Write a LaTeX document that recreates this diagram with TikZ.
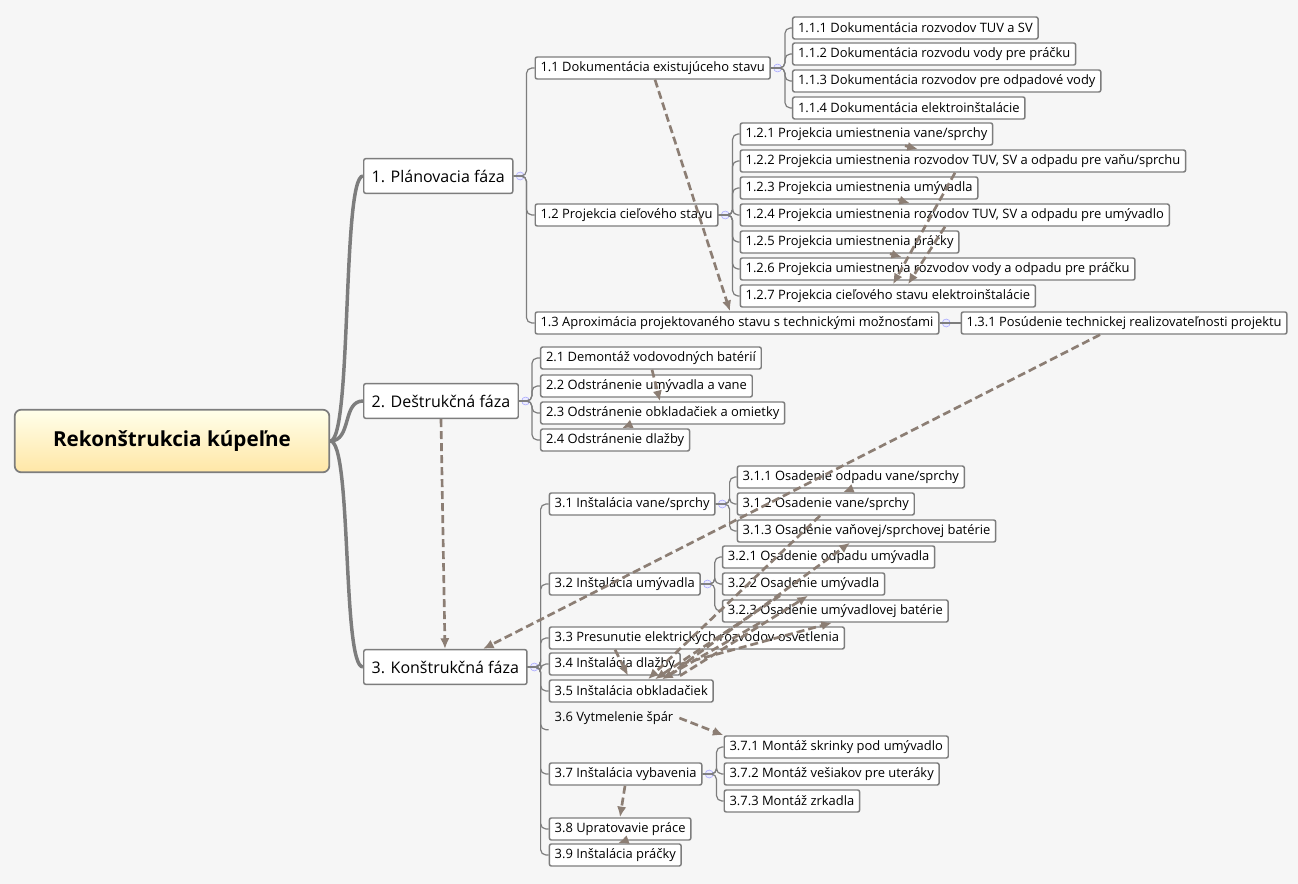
\documentclass[tikz,border=0pt]{standalone}
\usepackage{fontspec}
\setmainfont{Open Sans}
\usetikzlibrary{arrows.meta}
\definecolor{linegray}{RGB}{125,125,125}
\definecolor{depcol}{RGB}{140,126,116}
\begin{document}
\begin{tikzpicture}[x=0.75pt,y=-0.75pt,
    leaf/.style={draw=linegray,line width=1.1pt,rounded corners=1.5pt,fill=white,anchor=west,
        minimum height=16.5pt,inner ysep=3pt,inner xsep=4pt,font=\fontsize{9.7}{10}\selectfont},
    phase/.style={leaf,minimum height=26pt,inner xsep=6pt,font=\fontsize{12}{13}\selectfont},
    branch/.style={draw=linegray,line width=0.9pt,rounded corners=4pt},
    trunk/.style={draw=linegray,line width=2.6pt},
    dep/.style={draw=depcol,line width=2pt,dash pattern=on 6pt off 3pt,-{Latex[length=8pt,width=7pt]}},
    knob/.style={circle,draw=blue!35,fill=blue!8,inner sep=0pt,minimum size=6pt}]

    % background and frame of the picture
    \fill[gray!7] (0,0) rectangle (1298,884);
    \useasboundingbox (0,0) rectangle (1298,884);

    % root and the three phases
    \node[draw=linegray,line width=1.3pt,rounded corners=5pt,top color=yellow!8,bottom color=yellow!45!orange!35,
        minimum width=236pt,minimum height=47pt,font=\fontsize{15.5}{17}\bfseries] (root) at (172,441) {Rekonštrukcia kúpeľne};
    \node[phase] (p1) at (363,176) {1. Plánovacia fáza};
    \node[phase] (p2) at (363,401) {2. Deštrukčná fáza};
    \node[phase] (p3) at (363,667) {3. Konštrukčná fáza};
    \foreach \p/\y in {p1/176,p2/401,p3/667}
        \draw[trunk] (root.east) .. controls (352,441) and (342,\y) .. (\p.west);

    % helper: start of branches right of a parent
    \foreach \p in {p1,p2,p3}{
        \node[knob] at ([xshift=5pt]\p.east) {};
        \path (\p.east) ++(21,0) coordinate (b-\p);
    }

    % 1. phase
    \foreach \i/\y/\t in {1/68/{Dokumentácia existujúceho stavu},2/215/{Projekcia cieľového stavu},
                          3/323/{Aproximácia projektovaného stavu s technickými možnosťami}}{
        \node[leaf] (p1\i) at (b-p1 |- 0,\y) {1.\i\ \t};
        \draw[branch] (p1.east) -- ++(13,0) |- (p1\i.west);
    }
    \foreach \p in {p11,p12,p13}{
        \node[knob] at ([xshift=5pt]\p.east) {};
        \path (\p.east) ++(21,0) coordinate (b-\p);
    }
    \foreach \i/\y/\t in {1/28/{Dokumentácia rozvodov TUV a SV},2/54/{Dokumentácia rozvodu vody pre práčku},
                          3/81/{Dokumentácia rozvodov pre odpadové vody},4/108/{Dokumentácia elektroinštalácie}}{
        \node[leaf] (p11\i) at (b-p11 |- 0,\y) {1.1.\i\ \t};
        \draw[branch] (p11.east) -- ++(14,0) |- (p11\i.west);
    }
    \foreach \i/\y/\t in {1/134/{Projekcia umiestnenia vane/sprchy},2/161/{Projekcia umiestnenia rozvodov TUV, SV a odpadu pre vaňu/sprchu},
                          3/188/{Projekcia umiestnenia umývadla},4/215/{Projekcia umiestnenia rozvodov TUV, SV a odpadu pre umývadlo},
                          5/242/{Projekcia umiestnenia práčky},6/269/{Projekcia umiestnenia rozvodov vody a odpadu pre práčku},
                          7/296/{Projekcia cieľového stavu elektroinštalácie}}{
        \node[leaf] (p12\i) at (b-p12 |- 0,\y) {1.2.\i\ \t};
        \draw[branch] (p12.east) -- ++(14,0) |- (p12\i.west);
    }
    \node[leaf] (p131) at (b-p13 |- 0,323) {1.3.1\ Posúdenie technickej realizovateľnosti projektu};
    \draw[branch] (p13.east) -- (p131.west);

    % 2. phase
    \foreach \i/\y/\t in {1/358/{Demontáž vodovodných batérií},2/386/{Odstránenie umývadla a vane},
                          3/413/{Odstránenie obkladačiek a omietky},4/440/{Odstránenie dlažby}}{
        \node[leaf] (p2\i) at (b-p2 |- 0,\y) {2.\i\ \t};
        \draw[branch] (p2.east) -- ++(13,0) |- (p2\i.west);
    }

    % 3. phase
    \foreach \i/\y/\t in {1/504/{Inštalácia vane/sprchy},2/584/{Inštalácia umývadla},
                          3/638/{Presunutie elektrických rozvodov osvetlenia},4/664/{Inštalácia dlažby},
                          5/691/{Inštalácia obkladačiek},7/774/{Inštalácia vybavenia},
                          8/829/{Upratovavie práce},9/855/{Inštalácia práčky}}{
        \node[leaf] (p3\i) at (b-p3 |- 0,\y) {3.\i\ \t};
        \draw[branch] (p3.east) -- ++(13,0) |- (p3\i.west);
    }
    \node[leaf,draw=none,fill=none] (p36) at (b-p3 |- 0,718) {3.6\ Vytmelenie špár};
    \draw[branch] (p3.east) -- ++(13,0) |- (p36.south west);
    \foreach \p in {p31,p32,p37}{
        \node[knob] at ([xshift=5pt]\p.east) {};
        \path (\p.east) ++(21,0) coordinate (b-\p);
    }
    \foreach \i/\y/\t in {1/477/{Osadenie odpadu vane/sprchy},2/504/{Osadenie vane/sprchy},3/531/{Osadenie vaňovej/sprchovej batérie}}{
        \node[leaf] (p31\i) at (b-p31 |- 0,\y) {3.1.\i\ \t};
        \draw[branch] (p31.east) -- ++(14,0) |- (p31\i.west);
    }
    \foreach \i/\y/\t in {1/557/{Osadenie odpadu umývadla},2/584/{Osadenie umývadla},3/611/{Osadenie umývadlovej batérie}}{
        \node[leaf] (p32\i) at (b-p32 |- 0,\y) {3.2.\i\ \t};
        \draw[branch] (p32.east) -- ++(14,0) |- (p32\i.west);
    }
    \foreach \i/\y/\t in {1/747/{Montáž skrinky pod umývadlo},2/774/{Montáž vešiakov pre uteráky},3/801/{Montáž zrkadla}}{
        \node[leaf] (p37\i) at (b-p37 |- 0,\y) {3.7.\i\ \t};
        \draw[branch] (p37.east) -- ++(14,0) |- (p37\i.west);
    }

    % dependencies
    \draw[dep] (p11.south -| 655,0) -- (p13.north -| 730,0);
    \draw[dep] (p121.south -| 905,0) -- (p122.north -| 918,0);
    \draw[dep] (p123.south -| 898,0) -- (p124.north -| 910,0);
    \draw[dep] (p125.south -| 890,0) -- (p126.north -| 902,0);
    \draw[dep] (p122.south -| 955,0) -- (p127.north -| 893,0);
    \draw[dep] (p124.south -| 945,0) -- (p127.north -| 908,0);
    \draw[dep] (p21.south -| 652,0) -- (p23.north -| 660,0);
    \draw[dep] (p23.south -| 630,0) -- (p24.north -| 622,0);
    \draw[dep] (p2.south -| 441,0) -- (p3.north -| 445,0);
    \draw[dep] (p131.south -| 1100,0) -- (p3.north -| 483,0);
    \draw[dep] (p311.south -| 852,0) -- (p312.north -| 843,0);
    \draw[dep] (p312.south -| 820,0) -- (p35.north -| 648,0);
    \draw[dep] (p322.south -| 780,0) -- (p35.north -| 655,0);
    \draw[dep] (p323.south -| 760,0) -- (p35.north -| 662,0);
    \draw[dep] (p34.south -| 668,0) -- (p313.south -| 850,0);
    \draw[dep] (p34.south -| 680,0) -- (p322.south -| 808,0);
    \draw[dep] (p34.east) -- (p323.south -| 832,0);
    \draw[dep] (p33.south -| 615,0) -- (p34.south -| 628,0);
    \draw[dep] (p36.east) -- (p371.north west);
    \draw[dep] (p37.south -| 625,0) -- (p38.north -| 620,0);
    \draw[dep] (p38.south -| 625,0) -- (p39.north -| 618,0);
\end{tikzpicture}
\end{document}
